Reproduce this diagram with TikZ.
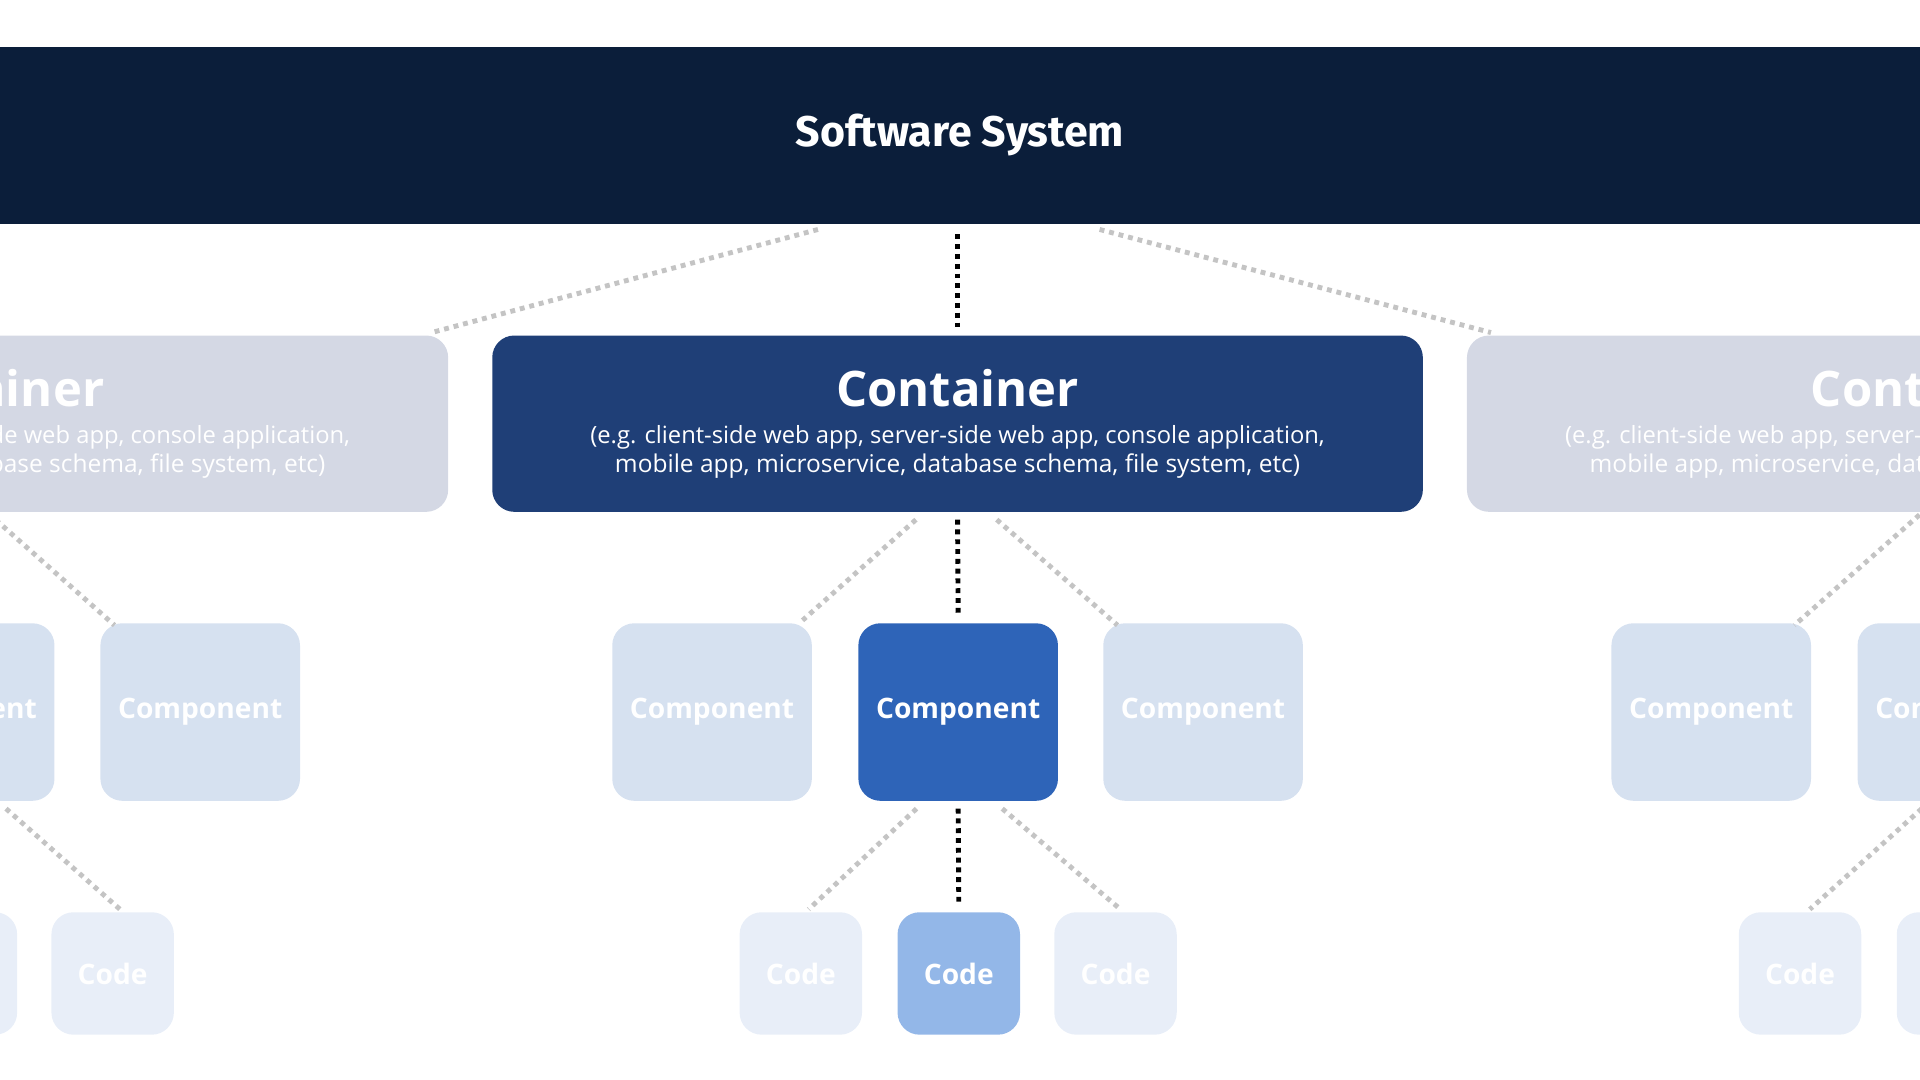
\documentclass[tikz,border=0pt]{standalone}
\usepackage{fontspec}
\setmainfont{Open Sans}
\newfontfamily\titlefont{Fira Sans}
\usetikzlibrary{positioning}
\definecolor{sysblue}{HTML}{0B1E3A}
\definecolor{contblue}{HTML}{1F3F77}
\definecolor{contgrey}{HTML}{D4D8E4}
\definecolor{compblue}{HTML}{2E64B8}
\definecolor{compgrey}{HTML}{D6E1F0}
\definecolor{codeblue}{HTML}{93B7E8}
\definecolor{codegrey}{HTML}{E8EEF8}
\definecolor{linkgrey}{HTML}{C4C4C4}
\tikzset{
  cont/.style={fill=contgrey, rounded corners=9pt, minimum width=380pt, minimum height=72pt, text=white, align=center, inner sep=0pt},
  comp/.style={fill=compgrey, rounded corners=9pt, minimum width=81.5pt, minimum height=72.5pt, text=white, font=\bfseries\fontsize{11.5}{14}\selectfont, inner sep=0pt},
  code/.style={fill=codegrey, rounded corners=9pt, minimum width=50pt, minimum height=50pt, text=white, font=\bfseries\fontsize{11.5}{14}\selectfont, inner sep=0pt},
  link/.style={linkgrey, line width=2pt, dash pattern=on 2pt off 2pt},
  focus/.style={black, line width=2pt, dash pattern=on 2pt off 2pt}
}
\newcommand{\conttext}{\bfseries\fontsize{20}{24}\selectfont Container\\[3pt]
  \mdseries\fontsize{9.7}{13.3}\selectfont (e.g. client-side web app, server-side web app, console application,\\mobile app, microservice, database schema, file system, etc)}
\begin{document}
\begin{tikzpicture}[x=0.5pt, y=-0.5pt]
  \useasboundingbox (0,0) rectangle (1568,882);
  \clip (0,0) rectangle (1568,882);
  % software system
  \node[fill=sysblue, minimum width=800pt, minimum height=72.5pt, text=white, font=\titlefont\bfseries\fontsize{17.5}{22}\selectfont, inner sep=0pt] (sys) at (784,110.5) {Software System};
  % containers
  \node[cont] (contL) at (-14,346) {\conttext};
  \node[cont, fill=contblue] (contC) at (782,346) {\conttext};
  \node[cont] (contR) at (1578,346) {\conttext};
  % components
  \node[comp] (compL1) at (-37,581.5) {Component};
  \node[comp] (compL2) at (163.5,581.5) {Component};
  \node[comp] (compC1) at (581.5,581.5) {Component};
  \node[comp, fill=compblue] (compC2) at (782.5,581.5) {Component};
  \node[comp] (compC3) at (982.5,581.5) {Component};
  \node[comp] (compR1) at (1397.5,581.5) {Component};
  \node[comp] (compR2) at (1598.5,581.5) {Component};
  % code
  \node[code] (codeL1) at (-36,795) {Code};
  \node[code] (codeL2) at (92,795) {Code};
  \node[code] (codeC1) at (654,795) {Code};
  \node[code, fill=codeblue] (codeC2) at (783,795) {Code};
  \node[code] (codeC3) at (911,795) {Code};
  \node[code] (codeR1) at (1470,795) {Code};
  \node[code] (codeR2) at (1599,795) {Code};
  % links
  \draw[focus] ([yshift=-4pt]sys.south -| contC.north) -- ([yshift=2pt]contC.north);
  \draw[link] ([xshift=-58pt,yshift=-2pt]sys.south) -- ([xshift=-7pt,yshift=1pt]contL.north east);
  \draw[link] ([xshift=57pt,yshift=-2pt]sys.south) -- ([xshift=10pt,yshift=1pt]contR.north west);
  \draw[focus] ([yshift=-3pt]contC.south) -- ([yshift=3pt]compC2.north);
  \draw[link] ([xshift=-17pt,yshift=-3pt]contC.south) -- ([xshift=-4pt,yshift=1pt]compC1.north east);
  \draw[link] ([xshift=16pt,yshift=-3pt]contC.south) -- ([xshift=6pt,yshift=-1pt]compC3.north west);
  \draw[link] ([xshift=-185pt,yshift=-3pt]contL.south east) -- ([xshift=-35pt,yshift=-1pt]compL2.north);
  \draw[link] ([xshift=185pt,yshift=-1pt]contR.south west) -- ([xshift=-7pt,yshift=-1pt]compR1.north east);
  \draw[focus] ([yshift=-3pt]compC2.south) -- ([yshift=3pt]codeC2.north);
  \draw[link] ([xshift=-17pt,yshift=-3pt]compC2.south) -- ([xshift=-22pt,yshift=1pt]codeC1.north east);
  \draw[link] ([xshift=18pt,yshift=-3pt]compC2.south) -- ([xshift=2pt,yshift=1pt]codeC3.north);
  \draw[link] ([xshift=-20pt,yshift=-3pt]compL1.south east) -- ([xshift=3pt,yshift=1pt]codeL2.north);
  \draw[link] ([xshift=45pt,yshift=-3pt]compR1.south east) -- ([xshift=4pt,yshift=1pt]codeR1.north);
\end{tikzpicture}
\end{document}
